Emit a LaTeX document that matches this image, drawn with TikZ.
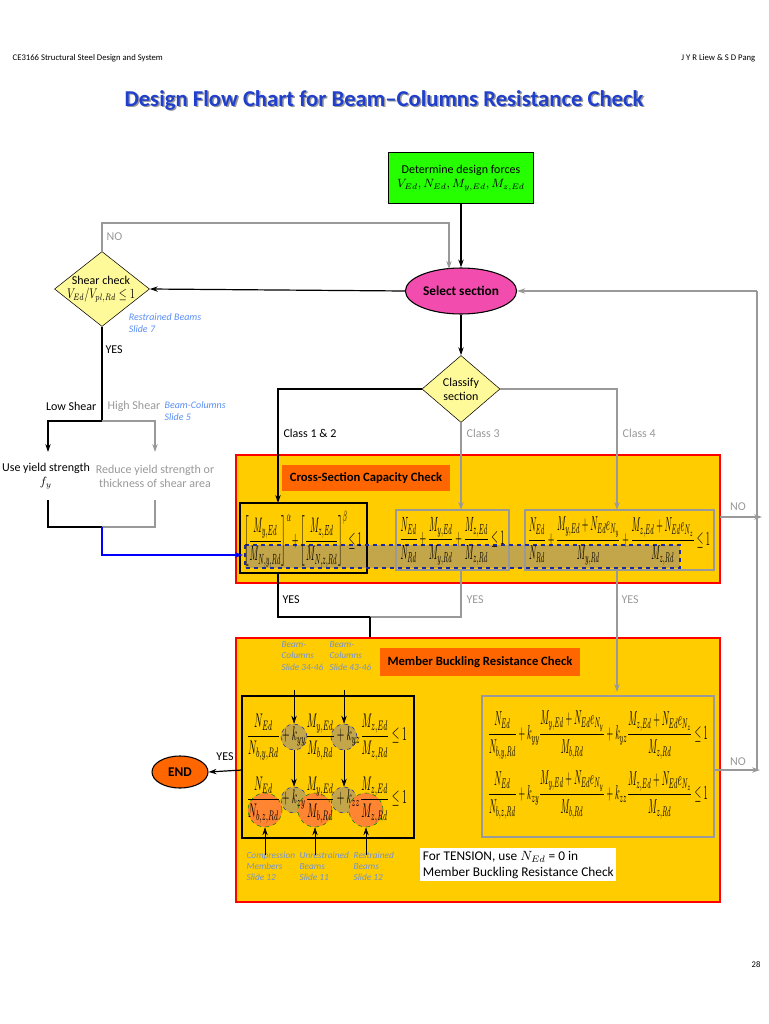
\documentclass[tikz,border=0pt]{standalone}
\usepackage{fontspec}
\usepackage{amsmath}
\usepackage{graphicx}
\setmainfont{Carlito}
\usetikzlibrary{shapes.geometric,arrows.meta,shadows}
\definecolor{panel}{HTML}{FFCC00}
\definecolor{lab}{HTML}{FF6600}
\definecolor{gr}{HTML}{999999}
\definecolor{bl}{HTML}{5B8FF5}
\definecolor{khaki}{HTML}{C4A64A}
\definecolor{navy}{HTML}{1F2AA0}
\definecolor{ttl}{HTML}{1F3FCC}
\newcommand{\fbx}[3]{\resizebox*{\dimexpr #1pt*3/4\relax}{\dimexpr #2pt*3/4\relax}{$\displaystyle #3$}}
\begin{document}
\begin{tikzpicture}[x=0.75pt,y=-0.75pt,
  txt/.style={font=\fontsize{9}{10.5}\selectfont,inner sep=1pt,align=center},
  ref/.style={font=\fontsize{7}{8.5}\selectfont\itshape,text=bl,inner sep=1pt,align=left},
  blk/.style={draw=black,line width=0.9pt},
  gry/.style={draw=gr,line width=0.9pt},
  arr/.style={-{Stealth[length=6pt,width=4pt]}},
  frm/.style={inner sep=0pt},
  kc/.style={circle,draw=navy,dashed,fill=khaki,minimum size=26*0.75pt,inner sep=0pt},
  oc/.style={circle,draw=green!50!black,dashed,fill=lab!80,minimum size=34*0.75pt,inner sep=0pt},
  panelbox/.style={draw=red,fill=panel,line width=0.8pt},
  lbl/.style={fill=lab,font=\fontsize{9.5}{11}\selectfont\bfseries,inner sep=6pt}]
\useasboundingbox (0,0) rectangle (768,1024);
\fill[white] (0,0) rectangle (768,1024);
% header
\node[anchor=west,font=\fontsize{6.5}{7}\selectfont] (hl) at (8,58) {CE3166 Structural Steel Design and System};
\node[anchor=east,font=\fontsize{6.5}{7}\selectfont] (hr) at (760,58) {J Y R Liew \& S D Pang};
\node[font=\fontsize{6.5}{7}\selectfont] (pg) at (756,965) {28};
\node[font=\fontsize{17}{20}\selectfont\bfseries,text=black!40] at (385.5,101.5) {Design Flow Chart for Beam--Columns Resistance Check};
\node[font=\fontsize{17}{20}\selectfont\bfseries,text=ttl] (title) at (384,100) {Design Flow Chart for Beam--Columns Resistance Check};
% top nodes
\node[draw,line width=1pt,fill=green!80!lime,minimum width=145*0.75pt,minimum height=51*0.75pt,txt] (forces) at (461,178) {Determine design forces\\ $V_{Ed}, N_{Ed}, M_{y,Ed}, M_{z,Ed}$};
\node[ellipse,draw,line width=0.8pt,fill=magenta!70,minimum width=93*0.75pt,minimum height=46*0.75pt,txt,font=\fontsize{10}{12}\selectfont\bfseries] (sel) at (461,291) {Select section};
\node[diamond,draw,fill=yellow!40,minimum width=95*0.75pt,minimum height=75*0.75pt,inner sep=0pt] (shear) at (102,289) {};
\node[txt] (sheart) at (101,289) {Shear check\\ \fbx{68}{14}{V_{Ed}/V_{pl,Rd}\le 1}};
\node[diamond,draw,fill=yellow!40,minimum width=78*0.75pt,minimum height=67*0.75pt,inner sep=0pt] (cls) at (461,389) {};
\node[txt] (clst) at (461,389) {Classify\\section};
\draw[gry,arr] (shear.north) -- (102,223) -- (449,223) -- (449,269);
\node[txt,text=gr,anchor=west] (no1) at (105,237) {NO};
\draw[blk,arr] (forces.south) -- (sel.north);
\draw[blk,arr] (sel.west) -- (shear.east);
\draw[blk,arr] (sel.south) -- (cls.north);
\node[ref,font=\fontsize{7.5}{9}\selectfont\itshape] (r1) at (165,323) {Restrained Beams\\Slide 7};
\node[txt,anchor=west] (yes1) at (104,350) {YES};
\draw[blk] (shear.south) -- (102,421);
\coordinate (sp) at (102,421);
\draw[blk,arr] (sp) -- (48,421) -- (48,452);
\draw[gry,arr] (sp) -- (155,421) -- (155,452);
\node[txt,anchor=east] (low) at (98,406) {Low Shear};
\node[txt,text=gr,anchor=west] (high) at (106,406) {High Shear};
\node[ref,font=\fontsize{7.5}{9}\selectfont\itshape,anchor=west] (r2) at (163,411) {Beam-Columns\\Slide 5};
\node[txt] (use) at (46,476) {Use yield strength\\ $f_y$};
\node[txt,text=gr] (red) at (155,476) {Reduce yield strength or\\thickness of shear area};
\draw[blk] (48,500) -- (48,527) -- (102,527);
\draw[gry] (102,527) -- (155,527) -- (155,500);
% cross-section panel
\draw[panelbox] (236,455) rectangle (720,583);
\node[lbl] (csl) at (366,478) {Cross-Section Capacity Check};
\fill[khaki] (245,545) rectangle (680,568);
\draw[blk] (240,503) rectangle (367,573);
\draw[gry] (396,510) rectangle (509,570);
\draw[gry] (525,510) rectangle (714,570);
\draw[navy,dashed,line width=1pt] (245,545) rectangle (680,568);
\node[frm] (f1) at (303,539) {\fbx{118}{56}{\left[\frac{M_{y,Ed}}{M_{N,y,Rd}}\right]^{\alpha}\!+\left[\frac{M_{z,Ed}}{M_{N,z,Rd}}\right]^{\beta}\!\le 1}};
\node[frm] (f3) at (452,541) {\fbx{105}{48}{\frac{N_{Ed}}{N_{Rd}}+\frac{M_{y,Ed}}{M_{y,Rd}}+\frac{M_{z,Ed}}{M_{z,Rd}}\le 1}};
\node[frm] (f4) at (619,541) {\fbx{182}{48}{\frac{N_{Ed}}{N_{Rd}}+\frac{M_{y,Ed}+N_{Ed}e_{N_y}}{M_{y,Rd}}+\frac{M_{z,Ed}+N_{Ed}e_{N_z}}{M_{z,Rd}}\le 1}};
\draw[blue,line width=1pt,arr] (102,527) -- (102,555) -- (243,555);
\draw[blk,arr] (cls.west) -- (278,389) -- (278,503);
\draw[gry,arr] (cls.south) -- (461,510);
\draw[gry,arr] (cls.east) -- (617,389) -- (617,510);
\node[txt,anchor=west] (c12) at (282,433) {Class 1 \& 2};
\node[txt,text=gr,anchor=west] (c3) at (465,433) {Class 3};
\node[txt,text=gr,anchor=west] (c4) at (621,433) {Class 4};
\draw[gry,arr] (720,517) -- (762,517);
\node[txt,text=gr] (no2) at (738,507) {NO};
% right loop
\draw[gry] (757,770) -- (757,291);
\draw[gry,arr] (757,291) -- (sel.east);
% YES below
\draw[blk] (278,573) -- (278,617) -- (370,617);
\draw[gry] (461,570) -- (461,617) -- (370,617);
\draw[blk,arr] (370,617) -- (370,696);
\node[txt,anchor=west] (yes2) at (281,600) {YES};
\node[txt,text=gr,anchor=west] (yes3) at (465,600) {YES};
\node[txt,text=gr,anchor=west] (yes4) at (620,600) {YES};
% buckling panel
\draw[panelbox] (236,638) rectangle (720,902);
\node[lbl] (mbl) at (480,662) {Member Buckling Resistance Check};
\draw[blk] (242,696) rectangle (414,838);
\draw[gry] (482,696) rectangle (714,837);
\draw[gry,arr] (617,570) -- (617,692);
% circles
\node[kc] (kyy) at (294,737) {};
\node[kc] (kyz) at (344,737) {};
\node[kc] (kzy) at (294,800) {};
\node[kc] (kzz) at (344,800) {};
\node[oc] (nb) at (265,810) {};
\node[oc] (mb) at (315,810) {};
\node[oc] (mz) at (366,810) {};
\node[frm] (b1) at (327,737) {\fbx{160}{46}{\frac{N_{Ed}}{N_{b,y,Rd}}+k_{yy}\frac{M_{y,Ed}}{M_{b,Rd}}+k_{yz}\frac{M_{z,Ed}}{M_{z,Rd}}\le 1}};
\node[frm] (b2) at (327,800) {\fbx{160}{46}{\frac{N_{Ed}}{N_{b,z,Rd}}+k_{zy}\frac{M_{y,Ed}}{M_{b,Rd}}+k_{zz}\frac{M_{z,Ed}}{M_{z,Rd}}\le 1}};
\node[ref,text=gr!40!bl,anchor=north west] (s1) at (280,640) {Beam-\\Columns\\Slide 34-46};
\node[ref,text=gr!40!bl,anchor=north west] (s2) at (328,640) {Beam-\\Columns\\Slide 43-46};
\node[ref,text=gr!40!bl,anchor=north west] (s3) at (245,850) {Compression\\Members\\Slide 12};
\node[ref,text=gr!40!bl,anchor=north west] (s4) at (298,850) {Unrestrained\\Beams\\Slide 11};
\node[ref,text=gr!40!bl,anchor=north west] (s5) at (352,850) {Restrained\\Beams\\Slide 12};
\draw[arr,thin] (294,690) -- (kyy);
\draw[arr,thin] (344,690) -- (kyz);
\draw[arr,thin] (kyy) -- (kzy);
\draw[arr,thin] (kyz) -- (kzz);
\draw[arr,thin] (265,855) -- (nb);
\draw[arr,thin] (315,855) -- (mb);
\draw[arr,thin] (366,855) -- (mz);
\node[frm] (b3) at (598,735) {\fbx{220}{48}{\frac{N_{Ed}}{N_{b,y,Rd}}+k_{yy}\frac{M_{y,Ed}+N_{Ed}e_{N_y}}{M_{b,Rd}}+k_{yz}\frac{M_{z,Ed}+N_{Ed}e_{N_z}}{M_{z,Rd}}\le 1}};
\node[frm] (b4) at (598,795) {\fbx{220}{48}{\frac{N_{Ed}}{N_{b,z,Rd}}+k_{zy}\frac{M_{y,Ed}+N_{Ed}e_{N_y}}{M_{b,Rd}}+k_{zz}\frac{M_{z,Ed}+N_{Ed}e_{N_z}}{M_{z,Rd}}\le 1}};
\node[fill=white,txt,align=left,font=\fontsize{10}{12}\selectfont,inner sep=2pt,anchor=north west] (ten) at (420,848) {For TENSION, use $N_{Ed}$ = 0 in\\Member Buckling Resistance Check};
\node[ellipse,draw,line width=0.8pt,fill=lab,minimum width=56*0.75pt,minimum height=32*0.75pt,txt,font=\fontsize{10}{12}\selectfont\bfseries] (end) at (180,772) {END};
\draw[blk,arr] (242,770) -- (end.east);
\node[txt] (yes5) at (225,757) {YES};
\draw[gry,arr] (714,770) -- (760,770);
\node[txt,text=gr] (no3) at (738,762) {NO};
\end{tikzpicture}
\end{document}
